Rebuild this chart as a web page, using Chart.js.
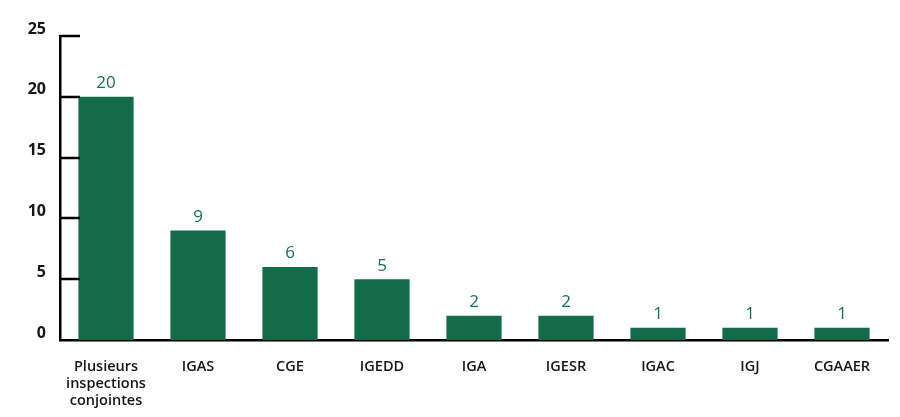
<!DOCTYPE html>
<html>
<head>
<meta charset="utf-8">
<script src="https://cdn.jsdelivr.net/npm/chart.js@4"></script>
<style>
  html, body { margin: 0; padding: 0; background: #fff; }
  #wrap { width: 900px; height: 417px; }
</style>
</head>
<body>
<div id="wrap"><canvas id="canvas" width="900" height="417"></canvas></div>
<script>
// Données
const categories = [['Plusieurs', 'inspections', 'conjointes'], 'IGAS', 'CGE', 'IGEDD', 'IGA', 'IGESR', 'IGAC', 'IGJ', 'CGAAER']
const values = [20, 9, 6, 5, 2, 2, 1, 1, 1]
const yTicks = [0, 5, 10, 15, 20, 25]

const barColor = '#136b4a'
const fontFamily = '"Open Sans", Lato, sans-serif'

// Valeurs au-dessus des barres
const valueLabels = {
  id: 'valueLabels',
  afterDatasetsDraw(chart) {
    const ctx = chart.ctx
    const meta = chart.getDatasetMeta(0)
    ctx.save()
    ctx.fillStyle = '#18704f'
    ctx.font = '17px ' + fontFamily
    ctx.textAlign = 'center'
    ctx.textBaseline = 'bottom'
    meta.data.forEach((bar, i) => {
      ctx.fillText(values[i], bar.x, bar.y - 5)
    })
    ctx.restore()
  }
}

// Petits traits de graduation vers l'intérieur
const innerTicks = {
  id: 'innerTicks',
  afterDraw(chart) {
    const ctx = chart.ctx
    const y = chart.scales.y
    const left = chart.chartArea.left
    ctx.save()
    ctx.strokeStyle = '#000'
    ctx.lineWidth = 2.5
    yTicks.forEach(v => {
      if (v === 0) return
      const py = Math.round(y.getPixelForValue(v))
      ctx.beginPath()
      ctx.moveTo(left, py)
      ctx.lineTo(left + 20, py)
      ctx.stroke()
    })
    ctx.restore()
  }
}

const config = {
  type: 'bar',
  data: {
    labels: categories,
    datasets: [{
      data: values,
      backgroundColor: barColor,
      categoryPercentage: 1,
      barPercentage: 0.6,
    }]
  },
  options: {
    responsive: false,
    animation: false,
    layout: { padding: { top: 36, right: 12, left: 0, bottom: 0 } },
    plugins: { legend: { display: false }, tooltip: { enabled: false } },
    scales: {
      x: {
        grid: { display: false, drawTicks: false },
        border: { display: true, color: '#000', width: 2.5 },
        ticks: {
          color: '#161616',
          font: { family: fontFamily, size: 14.5, weight: '600', lineHeight: 1.17 },
          padding: 18,
          maxRotation: 0,
          autoSkip: false,
        },
        afterFit(scale) { scale.height = 77 }
      },
      y: {
        min: 0,
        max: 25,
        afterBuildTicks(scale) { scale.ticks = yTicks.map(v => ({ value: v })) },
        grid: { display: false, drawTicks: false },
        border: { display: true, color: '#000', width: 2.5 },
        ticks: {
          color: '#161616',
          font: { family: fontFamily, size: 16, weight: 'bold' },
          padding: 14,
          labelOffset: -7,
        },
        afterFit(scale) { scale.width = 60 }
      }
    }
  },
  plugins: [valueLabels, innerTicks]
}

const chart = new Chart(document.getElementById('canvas'), config)
</script>
</body>
</html>
